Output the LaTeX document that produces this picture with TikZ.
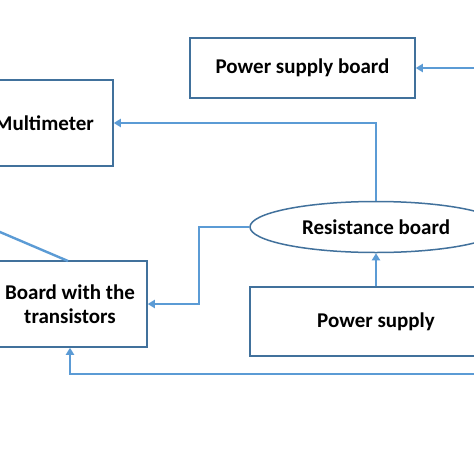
\documentclass[tikz,border=0pt]{standalone}
\usepackage{fontspec}
\setmainfont{Carlito}
\usetikzlibrary{shapes.geometric,arrows.meta}
\definecolor{boxc}{HTML}{41719C}
\definecolor{linec}{HTML}{5B9BD5}
\tikzset{
  x=1pt,y=-1pt,
  blk/.style={draw=boxc,line width=1.5pt,fill=white,inner sep=0pt,font=\bfseries\fontsize{21}{24}\selectfont,align=center},
  conn/.style={draw=linec,line width=2.4pt},
  arr/.style={conn,-{Triangle[width=8pt,length=7pt]}}
}
\begin{document}
\begin{tikzpicture}
\useasboundingbox (0,0) rectangle (474,474);
\clip (0,0) rectangle (474,474);
\fill[white] (0,0) rectangle (474,474);
\node[blk,minimum width=225,minimum height=60] (psb) at (302.5,68) {Power supply board};
\node[blk,minimum width=138,minimum height=86] (mm) at (44,123) {Multimeter};
\node[blk,ellipse,minimum width=252,minimum height=51] (rb) at (376,227) {Resistance board};
\node[blk,minimum width=154,minimum height=86] (bt) at (70,304) {Board with the\\transistors};
\node[blk,minimum width=252,minimum height=69] (ps) at (376,321.5) {Power supply};
\coordinate (inR) at (490,68);
\coordinate (inB) at (490,374);
\coordinate (inD) at (-20,223.5);
\draw[arr] (inR) -- (psb.east);
\draw[arr] (rb.north) |- (mm.east);
\draw[arr] (rb.west) -- (199,227) |- (bt.east);
\draw[arr] (ps.north) -- (rb.south);
\draw[arr] (inB) -| (bt.south);
\draw[conn] (inD) -- (68,261);
\end{tikzpicture}
\end{document}
